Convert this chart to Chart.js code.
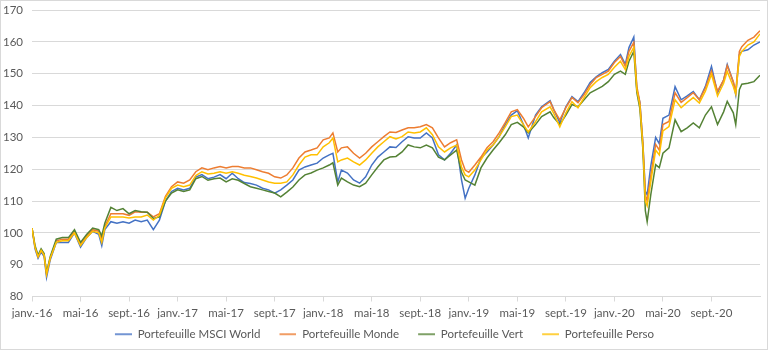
<!DOCTYPE html>
<html lang="fr">
<head>
<meta charset="utf-8">
<title>Portefeuilles 2016-2020</title>
<script src="https://cdn.jsdelivr.net/npm/chart.js@4.4.1/dist/chart.umd.min.js"></script>
<style>
  html, body { margin: 0; padding: 0; background: #fff; }
  #wrap { width: 768px; height: 350px; position: relative; }
</style>
</head>
<body>
<div id="wrap"><canvas id="chart"></canvas></div>
<script>
// x = months elapsed since 1 Jan 2016 (0 = janv.-16, 60 = end of 2020)
const months = [
  0, 0.25, 0.5, 0.75, 1, 1.2, 1.5, 2, 2.5, 3,
  3.5, 4, 4.5, 5, 5.5, 5.75, 6, 6.5, 7, 7.5,
  8, 8.5, 9, 9.5, 10, 10.5, 11, 11.5, 12, 12.5,
  13, 13.5, 14, 14.5, 15, 15.5, 16, 16.5, 17, 17.5,
  18, 18.5, 19, 19.5, 20, 20.5, 21, 21.5, 22, 22.5,
  23, 23.5, 24, 24.5, 24.8, 25.2, 25.5, 26, 26.5, 27,
  27.5, 28, 28.5, 29, 29.5, 30, 30.5, 31, 31.5, 32,
  32.5, 33, 33.5, 34, 34.5, 35, 35.4, 35.7, 36, 36.5,
  37, 37.5, 38, 38.5, 39, 39.5, 40, 40.5, 40.9, 41.5,
  42, 42.7, 43, 43.5, 44, 44.5, 45, 45.5, 46, 46.5,
  47, 47.5, 48, 48.5, 48.9, 49.2, 49.6, 49.85, 50.1, 50.35,
  50.55, 50.7, 51, 51.4, 51.7, 52, 52.5, 53, 53.5, 54,
  54.5, 55, 55.5, 56, 56.5, 57, 57.3, 57.8, 58, 58.3,
  58.5, 59, 59.5, 60
];

const msciWorld = [
  101.5, 95, 92, 94, 92.5, 86, 91.5, 97, 97, 97,
  100, 95.5, 98.5, 100.5, 99.5, 96, 101, 103.5, 103, 103.5,
  103, 104, 103.5, 104, 101, 104, 110, 113, 114, 113.5,
  114, 117.5, 118.3, 117, 117.5, 118.3, 117, 118.7, 117, 115.8,
  115.5, 115, 114, 113.5, 112.5, 113.5, 115, 116.6, 119.7, 120.7,
  121.3, 121.9, 123.5, 124.5, 125, 116, 119.7, 118.8, 116.6, 115.6,
  117.6, 121.3, 123.8, 125.4, 127, 126.8, 128.6, 130.2, 129.8, 129.8,
  131.4, 129.8, 124.5, 122.9, 125, 127.6, 116.6, 110.9, 114, 118.2,
  123.5, 125.4, 127.6, 130.2, 134, 137, 138.4, 134, 129.8, 137,
  139.6, 141.5, 138.7, 134.6, 139.6, 142.8, 141.2, 144, 147.2, 149,
  150.3, 151.3, 153.9, 156, 152.9, 158.2, 161.5, 145, 141, 128,
  113, 112, 121, 130, 128, 136, 137, 145.9, 141.8, 143,
  144.4, 141.8, 146, 152.3, 144, 148, 152.9, 147.3, 143.4, 156,
  157, 157.5, 159, 160
];

const monde = [
  101.5, 95.5, 92.5, 94.5, 93, 87, 92, 97.5, 98, 98,
  100.5, 96.5, 99, 101, 100.5, 98, 102, 106, 106, 106,
  105.5, 106.6, 106.5, 106.5, 105, 106, 111.5, 114.5, 116, 115.6,
  116.6, 119.2, 120.4, 119.8, 120.4, 120.8, 120.4, 120.8, 120.8, 120.4,
  120.4, 119.8, 119.2, 118.7, 117.6, 117.2, 118.2, 120.4, 123.5, 125.4,
  126, 126.7, 129.2, 129.8, 131.4, 125.4, 126.7, 127, 125, 123.5,
  125, 127, 128.6, 130.2, 131.7, 131.5, 132.3, 133, 133, 133.3,
  134, 133, 129.8, 127, 128.3, 129.2, 122.9, 119.7, 119, 121.3,
  123.8, 126.7, 128.6, 131.4, 134.6, 138, 138.7, 136, 133.3, 136.5,
  139.3, 141.2, 138.7, 135.5, 139.3, 142.5, 140.9, 143.4, 146.5, 148.8,
  149.8, 150.8, 153.5, 155.4, 152.3, 157, 159.8, 146, 141, 128,
  112, 110, 118, 127.8, 126, 134, 135, 144, 141, 142.5,
  144, 141.8, 145.5, 150.8, 144.5, 148, 152.5, 147.5, 144.4, 157,
  158.5, 160.5, 161.5, 163.5
];

const vert = [
  101.5, 96, 93, 95, 93.5, 87.5, 92.5, 98, 98.5, 98.5,
  101, 97, 99.5, 101.5, 101, 99, 103, 108, 107, 107.6,
  106, 107, 106.6, 106.5, 104.5, 105, 110, 112.5, 113.5, 113,
  113.5, 117, 117.7, 116.5, 117, 117.2, 116, 117, 116.5, 115.5,
  114.5, 114, 113.5, 113, 112.5, 111.3, 112.8, 114.4, 116.6, 118.2,
  118.8, 119.7, 120.4, 121.3, 122, 115, 117.2, 116, 115, 114.5,
  115.6, 118.2, 120.7, 122.9, 123.8, 124, 125.4, 127.6, 127, 126.7,
  127.6, 126.7, 123.8, 122.9, 124.5, 126, 119, 116.6, 116, 115,
  120.4, 123.5, 126, 128.3, 130.8, 134, 134.7, 133.3, 131.4, 134,
  136.5, 138, 136.2, 134, 137, 140.3, 139.6, 141.8, 144, 145,
  146, 147.5, 149.8, 150.8, 149.8, 153.9, 157, 144, 139, 126,
  107, 103.5, 112, 121.4, 120.5, 125, 126.7, 135.5, 131.8, 133,
  134.5, 133, 137, 139.6, 134, 138, 141.3, 137.7, 134, 145,
  146.7, 147, 147.5, 149.5
];

const perso = [
  101.5, 95.5, 92.5, 94.5, 93, 87, 92, 97, 97.5, 97.5,
  100, 96, 98.5, 100.5, 100, 97, 101.5, 105, 105, 105,
  104.7, 105, 105, 105.6, 104, 105.5, 111, 114, 115, 114.5,
  115, 118, 119.2, 118.5, 118.7, 119.2, 118.7, 119.2, 118.7, 118.1,
  117.7, 117.2, 116.6, 116, 115.6, 115.6, 116, 118.2, 121.3, 123.8,
  124.5, 124.5, 127, 128.3, 129.8, 122.3, 122.9, 123.5, 122.3, 121.3,
  122.9, 125, 127, 128.6, 130.2, 129.5, 130.2, 131.7, 131.4, 131.7,
  133, 130.8, 127, 125.4, 126.7, 127.6, 120.7, 118.2, 117.6, 119.7,
  122.9, 126, 127.6, 130.2, 133.3, 136.5, 137, 134, 131.7, 134.9,
  138, 139.6, 137.5, 133.3, 137.7, 141.2, 139.3, 142.5, 145.6, 147.5,
  148.8, 149.8, 152, 153.9, 151.3, 155.4, 158.3, 145, 140, 127,
  110, 108.5, 116, 126, 124.5, 132, 133.4, 141.8, 139.3, 141,
  142.5, 140.8, 144.5, 149.8, 143, 147, 150.7, 146, 143.6, 155.4,
  157, 159, 160, 162.5
];

// one label every 4 months
const tickLabels = [
  "janv.-16", "mai-16", "sept.-16", "janv.-17", "mai-17", "sept.-17",
  "janv.-18", "mai-18", "sept.-18", "janv.-19", "mai-19", "sept.-19",
  "janv.-20", "mai-20", "sept.-20"
];

const seriesNames = ["Portefeuille MSCI World", "Portefeuille Monde", "Portefeuille Vert", "Portefeuille Perso"];
const seriesColors = ["#4472C4", "#ED7D31", "#548235", "#FFC000"];

const FONT = { family: "Lato, 'Open Sans', sans-serif", size: 11.5 };
const TEXT = "#595959";
const GRID = "#d9d9d9";
const KEY_W = 26;   // legend slot width, the line sits in its right part

const toPoints = vals => vals.map((v, i) => ({ x: months[i], y: v }));

// small line sample used as legend symbol (leaves some space before it)
function legendKey(color) {
  const c = document.createElement("canvas");
  c.width = KEY_W;
  c.height = 4;
  const g = c.getContext("2d");
  g.strokeStyle = color;
  g.lineWidth = 1.5;
  g.beginPath();
  g.moveTo(KEY_W - 17, 2);
  g.lineTo(KEY_W, 2);
  g.stroke();
  return c;
}

// white background + thin frame around the whole chart
const frame = {
  id: "frame",
  beforeDraw(chart) {
    const { ctx, width, height } = chart;
    ctx.save();
    ctx.fillStyle = "#fff";
    ctx.fillRect(0, 0, width, height);
    ctx.strokeStyle = GRID;
    ctx.lineWidth = 1;
    ctx.strokeRect(0.5, 0.5, width - 1, height - 1);
    ctx.restore();
  }
};

const datasets = [msciWorld, monde, vert, perso].map((vals, i) => ({
  label: seriesNames[i],
  data: toPoints(vals),
  borderColor: seriesColors[i],
  backgroundColor: seriesColors[i],
  borderWidth: 1.5,
  pointRadius: 0,
  pointStyle: legendKey(seriesColors[i]),
  tension: 0,
  // later series drawn on top (Perso last)
  order: 4 - i
}));

new Chart(document.getElementById("chart"), {
  type: "line",
  data: { datasets },
  plugins: [frame],
  options: {
    responsive: true,
    maintainAspectRatio: false,
    animation: false,
    layout: { padding: { top: 10, right: 8, bottom: 0, left: 0 } },
    plugins: {
      tooltip: { enabled: false },
      legend: {
        position: "bottom",
        labels: {
          usePointStyle: true,
          pointStyleWidth: KEY_W,
          padding: 10,
          color: TEXT,
          font: FONT,
          sort: (a, b) => a.datasetIndex - b.datasetIndex
        }
      }
    },
    scales: {
      x: {
        type: "linear",
        min: 0,
        max: 60,
        border: { color: GRID },
        grid: { drawOnChartArea: false, drawTicks: true, tickLength: 5, color: GRID },
        ticks: {
          stepSize: 4,
          autoSkip: false,
          maxRotation: 0,
          padding: 5,
          color: TEXT,
          font: FONT,
          callback: v => (v % 4 === 0 && tickLabels[v / 4]) ? tickLabels[v / 4] : null
        },
        afterFit: s => { s.height = 22; }
      },
      y: {
        min: 80,
        max: 170,
        border: { display: false },
        grid: { color: GRID, drawTicks: false },
        ticks: { stepSize: 10, padding: 9, color: TEXT, font: FONT },
        afterFit: s => { s.width = 32; s.paddingTop = 0; }
      }
    }
  }
});
</script>
</body>
</html>
